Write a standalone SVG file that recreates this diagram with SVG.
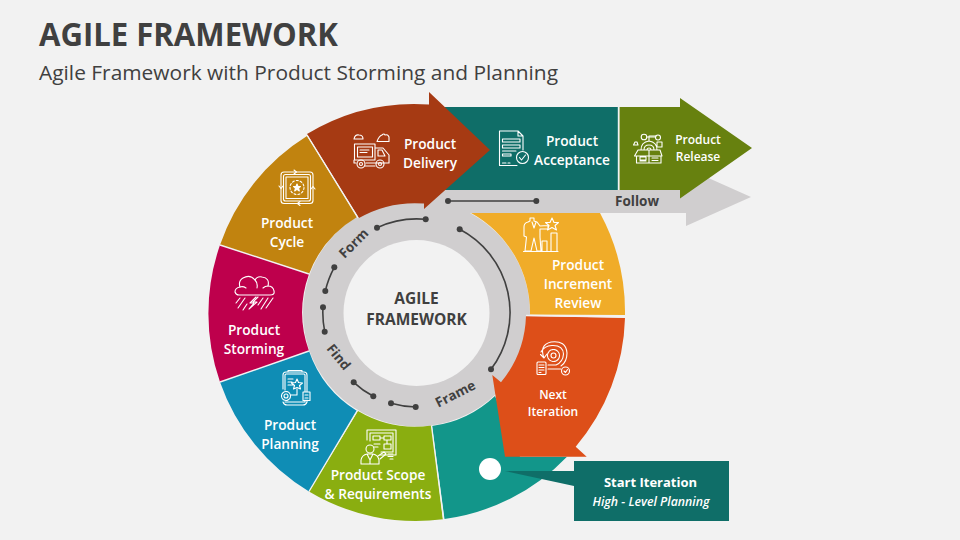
<svg xmlns="http://www.w3.org/2000/svg" width="960" height="540" viewBox="0 0 960 540">
<style>
text{font-family:"Open Sans","Liberation Sans",sans-serif}
.l{fill:#fff;font-size:13.700px;font-weight:600;text-anchor:middle}
.s{fill:#fff;font-size:12px;font-weight:600;text-anchor:middle}
.d{fill:#404040;font-size:13.500px;font-weight:700;text-anchor:middle}
.c{fill:#404040;font-size:15.500px;font-weight:700;text-anchor:middle}
.t{fill:none;stroke:#404040;stroke-width:1.600}
.i{fill:none;stroke:#fff;stroke-width:1.100;stroke-linejoin:round;stroke-linecap:round}
.sep{fill:none;stroke:#f2f2f2;stroke-width:1.400}
</style>
<rect width="960" height="540" fill="#f2f2f2"/>
<text x="39" y="46" font-size="33" font-weight="700" fill="#404040" textLength="299" lengthAdjust="spacingAndGlyphs">AGILE FRAMEWORK</text>
<text x="39" y="80" font-size="20" fill="#404040" textLength="519" lengthAdjust="spacingAndGlyphs">Agile Framework with Product Storming and Planning</text>

<g id="follow-arrow"><path d="M416 190H686V168L751 197L686 226V213H471L416 213Z" fill="#d0cecf"/></g>
<g id="ring"><circle cx="416.500" cy="313" r="113.500" fill="#d0cecf"/><circle cx="416.500" cy="313" r="73" fill="#f2f2f2"/></g>

<g id="start-iteration-segment"><path d="M432 426L444.500 519A208 208 0 0 0 567 456.700L520 456.700L495 396A113.500 113.500 0 0 1 432 426Z" fill="#12968a"/>
<circle cx="490" cy="469" r="11" fill="#fff"/></g>

<g id="product-scope">
<path d="M358 411L309 491.500A208 208 0 0 0 443 519.300L431.500 425.500A113.500 113.500 0 0 1 358 411Z" fill="#8aae10"/>
<g class="i"><path d="M367 440V430H396V455H380M370 441V433H393V452H381M373 436H380V440H373ZM384 436H391V440H384ZM384 444H391V449H384ZM380 438H384M387 440V444M374 444H380M374 447H378"/><circle cx="370" cy="449" r="4"/><path d="M361 464V460Q362 455 367 454L373 454Q378 455 379 460V464ZM367 454L370 460L373 454M370 460V464M378 456L384 452L386 454L380 459M388 454H393M388 456.500H393M390 459H393"/></g>
<text class="l" x="378" y="480">Product Scope</text><text class="l" x="378" y="499">&amp; Requirements</text></g>

<g id="product-planning">
<path d="M309 351L220 382A208 208 0 0 0 309 491.500L357 411A113.500 113.500 0 0 1 309 351Z" fill="#0f8db5"/>
<g class="i"><path d="M283 389V375Q283 372 286 372H304Q307 372 307 375V391M285 390V375Q285 374 286 374H304Q305 374 305 375V391M288 372V370.500H302V372M283 402Q284 405 287 405H303Q306 405 307 402V400M285 402H305V400M288 379H293M288 382H292M288 385H293M297 379L298.500 382.500L302.500 383L299.500 385.500L300.500 389L297 387.500L293.500 389L294.500 385.500L291.500 383L295.500 382.500ZM297 389V395H291M303 392H310V400.500H303ZM305 395H308M305 398H308"/><circle cx="286" cy="396" r="4.500" stroke-dasharray="2.500 .7"/><circle cx="286" cy="396" r="2"/></g>
<text class="l" x="290" y="430">Product</text><text class="l" x="290" y="449">Planning</text></g>

<g id="product-storming">
<path d="M309 274L220 245A208 208 0 0 0 220 382L309 351A113.500 113.500 0 0 1 309 274Z" fill="#be004c"/>
<g class="i"><path d="M239 295H270Q275 295 274 291Q273 286 268 286Q270 278 262 277Q257 276 255 280Q250 274 243 278Q238 281 240 287Q235 288 235 292Q236 295 239 295Z"/><path d="M255 280Q258 283 257 288M240 287Q243 286 246 288M268 286Q265 286 263 288M256 297L250 303H254L249 309L257 302H253L258 297M240 298L236 303M245 298L238 308M247 304L243 310M263 298L258 305M268 298L261 309M273 298L266 308"/></g>
<text class="l" x="254" y="335">Product</text><text class="l" x="254" y="354">Storming</text></g>

<g id="product-cycle">
<path d="M357 217L307 136A208 208 0 0 0 220 245L309 274A113.500 113.500 0 0 1 357 217Z" fill="#c1830f"/>
<g class="i"><rect x="281" y="172" width="32" height="31.500" rx="3"/><rect x="283.500" y="174.500" width="27" height="26.500" rx="2"/><rect x="286" y="177" width="22" height="21.500"/><circle cx="297" cy="187.500" r="7" stroke-dasharray="2 2"/><path d="M297 184L298 186.500H300.500L298.500 188L299.300 191L297 189.300L294.700 191L295.500 188L293.500 186.500H296Z" fill="#fff"/><path d="M294 170L296.500 172L294 174M300 201.500L297.500 203.500L300 205.500M279 186L281 188.500L283 186M311 189L313 186.500L315 189"/></g>
<text class="l" x="287" y="228">Product</text><text class="l" x="287" y="247">Cycle</text></g>

<g id="product-increment-review">
<path d="M471 213H600A208 208 0 0 1 625 315L530 314.500A113.500 113.500 0 0 0 471 213Z" fill="#f0ac29"/>
<g class="i"><path d="M525 251L526.500 237L524 236V227Q524 223 528 222L530 221V218H534V221L537 222L540 226L548 225.500L548 229H540V237L541 251H537L534 238L531 251ZM523.500 251.500H558M532 222L534 228L536 222M552 218L554 222.500H558.500L555 225.500L556.500 230L552 227.500L547.500 230L549 225.500L545.500 222.500L550 222.500ZM542 251V241H547V251M551 251V233H557V251"/></g>
<text class="l" x="578" y="270">Product</text><text class="l" x="578" y="289">Increment</text><text class="l" x="578" y="308">Review</text></g>

<g id="next-iteration">
<path d="M526 316L625 318A208 208 0 0 1 575.700 446.700L586.700 456.700H505L492.300 375L501 382.300A110 110 0 0 0 526 316Z" fill="#dd4f19"/>
<g class="i"><path d="M544 358Q539 345 551 342Q566 340 567 353Q567 362 561 366M541 352Q544 346 552 345.500Q563 345 563.500 354Q563 362 556 365H548M544 358L540.500 354.500M544 358L547 354M548 369H561"/><circle cx="553.500" cy="355.500" r="6" stroke-dasharray="2.500 .8"/><circle cx="553.500" cy="355.500" r="2.500"/><rect x="537" y="362" width="9" height="12.500" rx="1"/><path d="M539 365H544M539 367.500H544M539 370H544M539 372.500H541"/><circle cx="565.500" cy="371" r="4"/><path d="M564 371L565.500 372.500L567.500 369.500"/></g>
<text class="s" x="553" y="399">Next</text><text class="s" x="553" y="416">Iteration</text></g>

<g id="product-acceptance">
<rect x="440" y="107" width="178" height="83" fill="#0f6e68"/>
<g class="i"><path d="M517 165.500H499.500V131H518L523 136V150M518 131V136H523M502.500 139H520V142H502.500ZM502.500 145H520V148H502.500ZM502.500 151H516M502.500 154H511V156H502.500ZM502.500 163H506M508 163H510"/><circle cx="522.500" cy="157.500" r="6"/><path d="M519.500 157.500L521.500 160L525.500 155"/></g>
<text class="l" x="572" y="146">Product</text><text class="l" x="572" y="165">Acceptance</text></g>

<g id="product-release">
<path d="M619.500 107H680V98L752 148L680 198.500V190H619.500Z" fill="#67810f"/>
<g class="i"><path d="M634.500 156L638 150H660L662 156ZM636.500 156V163H661V156M649 150V163M640 157H646V160H640ZM640 161H646M652 158H658M652 160.500H658M641 150Q641 142 649 141Q657 142 657 150M644 150Q644 145 649 145Q654 145 654 150M647 150Q647 148 649 148Q651 148 651 150M649 141V136H656M633.500 145H638L637 142H635ZM657 142H662V147H657Z"/><circle cx="644" cy="137" r="2.800"/><circle cx="658" cy="137.500" r="2.500"/><path d="M647 137H655.500"/></g>
<text class="s" x="698" y="144">Product</text><text class="s" x="698" y="161">Release</text></g>

<g id="product-delivery">
<path d="M307 134A208 208 0 0 1 429 104.500V92L490 150L424 209V203.500A113.500 113.500 0 0 0 359 218Z" fill="#a63a13"/>
<g class="i"><path d="M354.500 160V144H375V160M357.500 147H372.500V157H357.500ZM360 150H369M360 152.500H367M375 148H383L389 155V163H375M378 150H382L385 156H378ZM354 160H375M354 160V163H356M366 163H375M365 166H375"/><circle cx="361" cy="164" r="4"/><circle cx="361" cy="164" r="1.500"/><circle cx="380" cy="164" r="4"/><circle cx="380" cy="164" r="1.500"/><path d="M354 139H363Q363 135 359 135Q355 134 354 139ZM377 141.500H389V137Q388 134 385 135Q384 133 382 135Q379 136 377 141.500Z"/></g>
<text class="l" x="430" y="149">Product</text><text class="l" x="430" y="168">Delivery</text></g>

<g id="separators" class="sep"><path d="M307 135L358 218M220 245L309 274M220 382L309 351M309 491.500L357 411M443.500 519L431.500 425.500M526 315.500L625 316.800M618.500 107V190"/></g>

<g id="connectors" fill="#404040">
<path class="t" d="M377 227.700A94 94 0 0 1 425.700 219.300M459.700 229.300A94 94 0 0 1 491 369.300M334.300 267.300A94 94 0 0 0 325.300 291M323 307.300A94 94 0 0 0 324.700 331.700M353.700 382.300A94 94 0 0 0 373.300 396.300M391 403.300A94 94 0 0 0 415.700 407M448 201H536.300"/>
<circle cx="377" cy="227.700" r="3"/><circle cx="425.700" cy="219.300" r="3"/><circle cx="459.700" cy="229.300" r="3"/><circle cx="491" cy="369.300" r="3"/><circle cx="334.300" cy="267.300" r="3"/><circle cx="325.300" cy="291" r="3"/><circle cx="323" cy="307.300" r="3"/><circle cx="324.700" cy="331.700" r="3"/><circle cx="353.700" cy="382.300" r="3"/><circle cx="373.300" cy="396.300" r="3"/><circle cx="391" cy="403.300" r="3"/><circle cx="415.700" cy="407" r="3"/><circle cx="448" cy="201" r="3"/><circle cx="536.300" cy="201" r="3"/>
</g>

<g id="center-labels">
<text class="c" x="416.500" y="304">AGILE</text><text class="c" x="416.500" y="325">FRAMEWORK</text>
<text class="d" transform="translate(357 246.500) rotate(-45)">Form</text>
<text class="d" transform="translate(335 360) rotate(51)">Find</text>
<text class="d" transform="translate(457.500 398) rotate(-27)">Frame</text>
<text class="d" x="637" y="206">Follow</text>
</g>

<g id="start-iteration">
<path d="M505 471H574V486Z" fill="#0f6e68"/>
<rect x="574" y="461" width="155" height="60" fill="#0f6e68"/>
<text x="650.500" y="487" fill="#fff" font-size="13" font-weight="700" text-anchor="middle">Start Iteration</text>
<text x="651" y="506" fill="#fff" font-size="12.300" font-weight="600" font-style="italic" text-anchor="middle">High - Level Planning</text>
</g>
</svg>
